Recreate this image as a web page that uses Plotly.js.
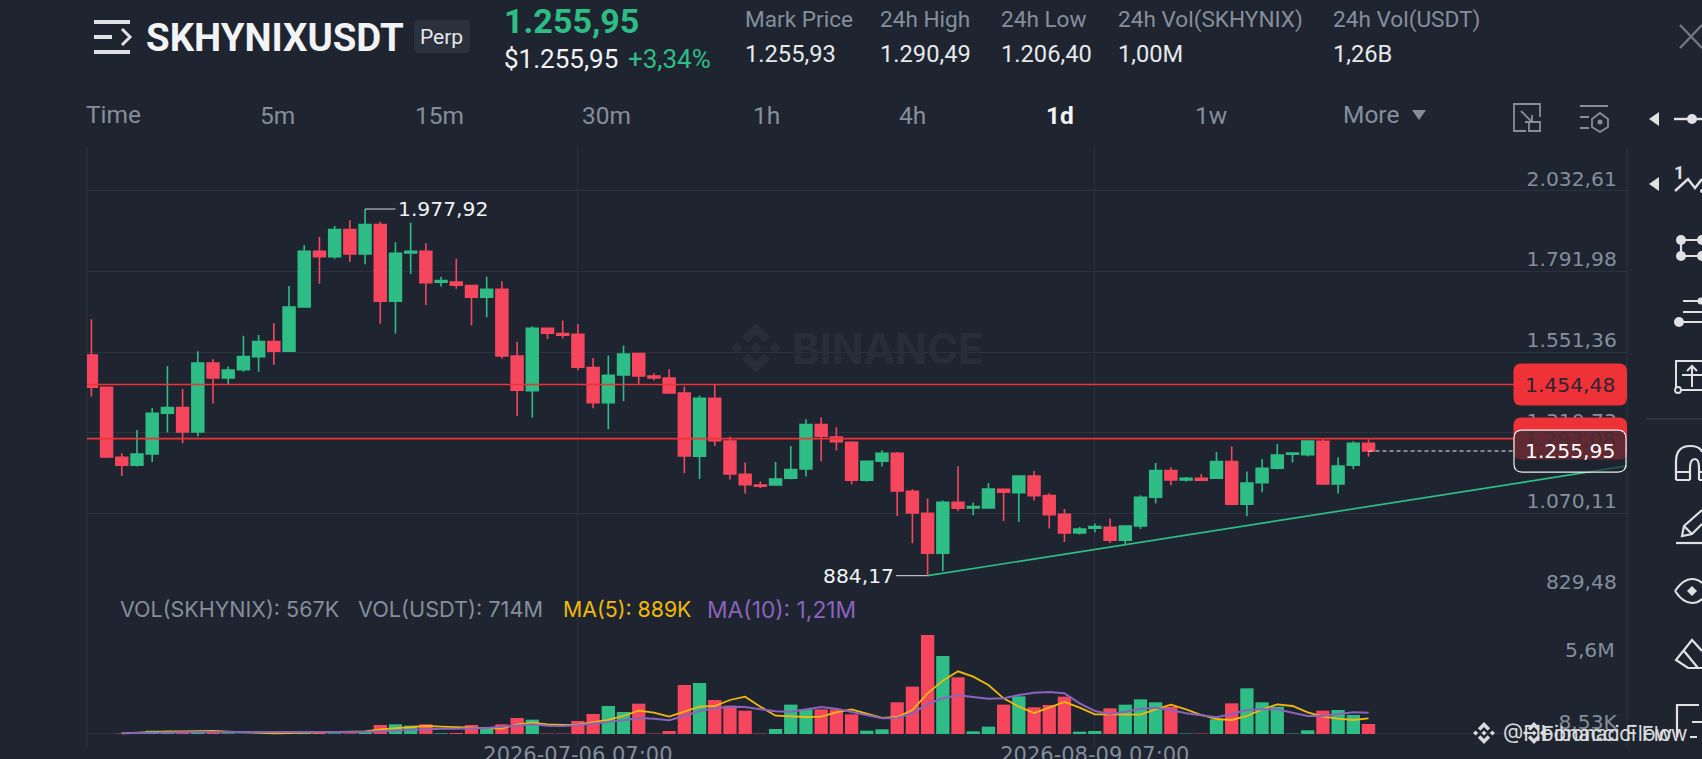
<!DOCTYPE html>
<html><head><meta charset="utf-8">
<script src="https://cdn.plot.ly/plotly-3.0.1.min.js"></script>
<style>html,body{margin:0;padding:0;background:#1e2530;overflow:hidden}#c{width:1702px;height:759px}</style>
</head><body><div id="c"></div>
<script>
const W=1702,H=759;
const opens=[1542.5,1446.1,1237.3,1213.5,1247.3,1368.6,1385.5,1312.9,1518.7,1474,1498.8,1537.6,1582.3,1553.5,1685.7,1851.7,1835.8,1916.4,1843.8,1931.3,1702.6,1846.8,1851.7,1759.3,1760.3,1749.3,1714.5,1738.4,1539.6,1436.2,1622.1,1606.2,1604.2,1504.8,1400.4,1482.9,1546.5,1479.9,1474,1429.2,1240.3,1413.3,1286,1186.6,1154.8,1154.8,1174.7,1202.5,1334.8,1298,1282.1,1168.7,1225.4,1249.3,1135.9,1070.3,951,1103.1,1086.2,1086.2,1141.9,1132,1181.7,1123,1067.3,1011.7,1025.6,1028.6,989.8,1032.5,1118,1197.6,1169.7,1174.7,1174.7,1224.4,1097.2,1161.8,1204.5,1246.3,1245.3,1285.1,1157.8,1213.5,1279.1];
const highs=[1648.9,1446.1,1249.3,1318.9,1384.5,1509.7,1441.1,1553.5,1529.6,1507.8,1600.2,1602.2,1637,1748.3,1869.6,1894.5,1927.3,1944.2,1977.92,1940.2,1878.6,1937.2,1875.6,1776.2,1829.9,1751.3,1776.2,1762.3,1582.3,1628,1623.1,1645,1635,1533.6,1540.6,1570.4,1546.5,1487.9,1499.8,1448.1,1421.3,1454.1,1299,1221.4,1164.8,1223.4,1271.1,1350.7,1355.7,1326.8,1285,1225.4,1258.2,1253.3,1141.9,1114.1,1108.1,1210.5,1102.1,1160.8,1142.9,1183.7,1196.6,1130,1083.2,1029.6,1039.5,1054.4,1034.5,1124,1220.4,1207.5,1178.7,1187.6,1253.3,1269.2,1194.6,1232.4,1277.1,1251.3,1288,1291,1237.3,1285.1,1290.49];
const lows=[1418.3,1235.3,1181.6,1209.5,1223.4,1310.9,1279.1,1299,1397.4,1456.1,1492.8,1492.8,1513.7,1553.5,1684.7,1755.3,1829.9,1819.9,1813,1636,1606.2,1784.1,1691.7,1746.4,1740.4,1631,1654.9,1531.6,1360.6,1355.7,1590.3,1591.3,1496.8,1383.5,1320.8,1404.4,1454.1,1467,1427.2,1189.6,1172.7,1271.1,1170.7,1129,1145.9,1153.8,1171.7,1179.7,1225.4,1257.2,1155.8,1164.8,1209.5,1062.4,980.8,884.17,898.3,1077.3,1064.4,1085.2,1047.5,1044.5,1108.1,1024.6,984.8,1006.7,1012.7,981.8,976.9,1023.6,1099.2,1153.8,1164.8,1167.8,1173.7,1094.2,1061.4,1132.9,1200.6,1221.4,1239.3,1155.8,1129,1201.6,1239.3];
const closes=[1446.1,1238.3,1213.5,1247.3,1368.6,1385.5,1312.9,1518.7,1474,1497.8,1537.6,1582.3,1553.5,1685.7,1851.7,1835.8,1916.4,1843.8,1931.3,1702.6,1845.8,1851.7,1758.3,1764.3,1750.3,1714.5,1738.4,1539.6,1437.2,1622.1,1607.2,1601.2,1505.8,1400.4,1481.9,1545.5,1479.9,1474,1429.2,1241.3,1413.3,1287,1187.6,1155.8,1150.8,1172.7,1200.6,1334.8,1300,1284,1168.7,1225.4,1249.3,1136.9,1071.3,951,1103.1,1085.2,1090.2,1142.9,1133,1181.7,1123,1066.3,1011.7,1023.6,1030.6,989.8,1032.5,1118,1197.6,1169.7,1174.7,1168.7,1224.4,1097.2,1160.8,1204.5,1244.3,1250.3,1286.1,1157.8,1211.5,1279.1,1255.95];
const volumesK=[0,0,19,19,189,75,94,94,75,38,19,19,19,19,57,57,38,38,151,509,547,472,547,38,57,509,321,547,906,811,19,19,736,1132,1585,1245,1717,19,170,2774,2887,1925,1604,1321,19,283,1661,1396,1396,1396,1113,189,264,1793,2680,5600,4416,3208,151,415,1661,2132,1510,1642,2113,132,170,1453,1661,1962,1793,1547,19,19,830,1736,2585,1793,1547,19,208,1321,1359,1076,567];
const ma5K=[null,null,38,75,132,142,151,160,170,132,94,57,38,57,75,75,94,113,151,264,321,396,453,415,377,359,321,302,547,642,547,509,528,642,793,1019,1321,1208,981,1264,1547,1585,1925,2113,1547,1038,1000,962,981,1227,1396,1132,906,962,1359,2302,3019,3548,3246,2774,2019,1547,1189,1491,1812,1491,1113,1113,1094,1094,1396,1661,1396,1076,849,793,1019,1396,1679,1585,1227,981,868,793,889];
const ma10K=[null,null,38,57,94,104,113,113,113,113,113,94,75,75,75,75,75,94,113,151,189,245,302,302,302,321,340,415,491,547,472,453,491,566,679,774,906,868,774,1019,1302,1453,1547,1528,1396,1283,1264,1396,1528,1434,1245,1038,887,906,1170,1698,2019,2189,2076,2000,2019,2208,2340,2378,2302,1736,1302,1132,1264,1434,1491,1359,1170,1057,944,1132,1359,1396,1396,1208,1019,1019,1132,1227,1208];
const priceTicks=[2032.61,1791.98,1551.36,1310.73,1070.11,829.48];
const priceTickText=['2.032,61','1.791,98','1.551,36','1.310,73','1.070,11','829,48'];
const volumeTicks=[8530];
const volumeTickText=['8.53K'];
const dateTicks=['2026-07-06 07:00','2026-08-09 07:00'];
const resistance=[1454.48,1293.08];
const resistanceText=['1.454,48','1.293,08'];
const lastPrice=1255.95;
const highLabelDate='2026-06-22 07:00',highLabelEnd='2026-06-24 07:00',highValue=1977.92;
const lowLabelDate='2026-07-29 07:00',lowLabelEnd='2026-07-27 05:00',lowValue=884.17;
const trendX=['2026-07-29 07:00','2026-09-13 07:00'],trendY=[884.17,1211.5];
const xRange=['2026-06-04 00:05','2026-09-13 07:00'];
const lastDate='2026-08-27 07:00';
const boxEndDate='2026-09-07 00:00';
const axisLabelDate='2026-09-12 15:00';

const UP='#2ebd85',DN='#f6465d',RED='#ef3237',BG='#1e2530',GRID='#2c323d',MUTE='#848e9c',TXT='#e6e8ea',ICON='#dfe1e4';
const LABEL='"DejaVu Sans", sans-serif';
const dates=opens.map((_,i)=>{const d=new Date(Date.UTC(2026,5,4+i,7));return d.toISOString().slice(0,10)+' 07:00';});
const barColors=opens.map((o,i)=>closes[i]>=o?UP:DN);
const vols=volumesK.map(v=>v*1000),ma5=ma5K.map(v=>v==null?null:v*1000),ma10=ma10K.map(v=>v==null?null:v*1000);
const tickTrace=(vals,text,ya)=>({type:'scatter',mode:'text',x:vals.map(()=>axisLabelDate),y:vals,text:text,textposition:'top left',xaxis:'x',yaxis:ya,cliponaxis:false,
  textfont:{family:LABEL,size:20.3,color:MUTE},showlegend:false});

const traces=[
 {type:'bar',x:dates,y:vols,xaxis:'x',yaxis:'y2',marker:{color:barColors,line:{width:0}},showlegend:false,hoverinfo:'skip'},
 {type:'scatter',mode:'lines',x:dates,y:ma5,xaxis:'x',yaxis:'y2',line:{color:'#f0b90b',width:1.8},showlegend:false},
 {type:'scatter',mode:'lines',x:dates,y:ma10,xaxis:'x',yaxis:'y2',line:{color:'#8a63bd',width:2},showlegend:false},
 {type:'candlestick',x:dates,open:opens,high:highs,low:lows,close:closes,xaxis:'x',yaxis:'y',whiskerwidth:0,
  increasing:{line:{color:UP,width:1.6},fillcolor:UP},decreasing:{line:{color:DN,width:1.6},fillcolor:DN},showlegend:false},
 {type:'scatter',mode:'lines',x:[xRange[0],boxEndDate],y:[resistance[0],resistance[0]],line:{color:RED,width:1.7},showlegend:false},
 {type:'scatter',mode:'lines',x:[xRange[0],boxEndDate],y:[resistance[1],resistance[1]],line:{color:RED,width:1.7},showlegend:false},
 {type:'scatter',mode:'lines',x:trendX,y:trendY,line:{color:UP,width:1.7},showlegend:false},
 {type:'scatter',mode:'lines',x:[lastDate,boxEndDate],y:[lastPrice,lastPrice],line:{color:'#e6e8ea',width:1,dash:'4px,3px'},showlegend:false},
 {type:'scatter',mode:'lines',x:[highLabelDate,highLabelEnd],y:[highValue,highValue],line:{color:'#b7bbc2',width:1.2},showlegend:false},
 {type:'scatter',mode:'lines',x:[lowLabelEnd,lowLabelDate],y:[lowValue,lowValue],line:{color:'#b7bbc2',width:1.2},showlegend:false},
 tickTrace(priceTicks,priceTickText,'y'),
 tickTrace(volumeTicks,volumeTickText,'y2')
];

const px=x=>x/W,py=y=>1-y/H;
const shapes=[],ann=[];
function pathPx(d,o){o=o||{};let k=0;
 const s=d.replace(/-?\d+(\.\d+)?/g,m=>{const v=+m;const r=(k++%2===0)?px(v):py(v);return r.toFixed(5);});
 shapes.push({type:'path',xref:'paper',yref:'paper',path:s,line:{color:o.c||ICON,width:o.w==null?2.2:o.w},fillcolor:o.f||'rgba(0,0,0,0)',layer:o.layer||'above'});}
function circ(cx,cy,r,o){o=o||{};shapes.push({type:'circle',xref:'paper',yref:'paper',x0:px(cx-r),x1:px(cx+r),y0:py(cy+r),y1:py(cy-r),line:{color:o.c||ICON,width:o.w==null?0:o.w},fillcolor:o.f||ICON,layer:'above'});}
function T(t,x,y,size,color,o){o=o||{};ann.push({text:t,xref:'paper',yref:'paper',x:px(x),y:py(y),xanchor:o.a||'left',yanchor:'middle',showarrow:false,borderpad:0,
 font:{family:o.fam||'Roboto, sans-serif',size:size,color:color,weight:o.b?700:400}});}
function logo(cx,cy,r,c,layer){
 const p=(pts)=>{pathPx('M'+pts.map(q=>(cx+q[0]*r)+' '+(cy+q[1]*r)).join(' L')+' Z',{c:c,w:0,f:c,layer:layer});};
 p([[0,-1],[.56,-.44],[.33,-.21],[0,-.54],[-.33,-.21],[-.56,-.44]]);
 p([[0,1],[.56,.44],[.33,.21],[0,.54],[-.33,.21],[-.56,.44]]);
 p([[0,-.23],[.23,0],[0,.23],[-.23,0]]);
 p([[-.76,-.23],[-.53,0],[-.76,.23],[-1,0]]);
 p([[.76,-.23],[1,0],[.76,.23],[.53,0]]);
}
function rrect(anchor,x0,x1,hh,fill,line){
 const r=8,a=x0-1627,b=x1-1627;
 shapes.push({type:'path',xref:'paper',yref:'y',xsizemode:'pixel',ysizemode:'pixel',xanchor:1627/W,yanchor:anchor,
  path:`M${a+r} ${-hh} L${b-r} ${-hh} Q${b} ${-hh} ${b} ${-hh+r} L${b} ${hh-r} Q${b} ${hh} ${b-r} ${hh} L${a+r} ${hh} Q${a} ${hh} ${a} ${hh-r} L${a} ${-hh+r} Q${a} ${-hh} ${a+r} ${-hh} Z`,
  fillcolor:fill,line:line||{width:0},layer:'above'});
}

shapes.push({type:'line',xref:'paper',yref:'paper',x0:px(87),x1:px(87),y0:py(747),y1:py(147),line:{color:GRID,width:1.2},layer:'below'});
shapes.push({type:'line',xref:'paper',yref:'paper',x0:px(1627),x1:px(1627),y0:py(747),y1:py(147),line:{color:GRID,width:1.2},layer:'below'});
logo(756,348,25,'#282e39','below');
T('BINANCE',791,348,42,'#282e39',{b:1,fam:'Inter, sans-serif'});
rrect(resistance[0],1513.5,1627,21,RED);
rrect(resistance[1],1513.5,1627,21,RED);
rrect(lastPrice,1514,1626,21,'rgba(30,37,48,0.68)',{color:'#eef0f2',width:1.2});
T(resistanceText[0],1616,384.5,20.3,'#2d2530',{a:'right',fam:LABEL});
T(resistanceText[1],1616,438.7,20.3,'#4a2a33',{a:'right',fam:LABEL});
T('1.255,95',1616,451.1,20.3,'#ffffff',{a:'right',fam:LABEL});
ann.push({text:'1.977,92',x:highLabelEnd,y:highValue,xref:'x',yref:'y',xanchor:'left',yanchor:'middle',xshift:2,showarrow:false,borderpad:0,font:{family:LABEL,size:20.3,color:'#f2f3f5'}});
ann.push({text:'884,17',x:lowLabelEnd,y:lowValue,xref:'x',yref:'y',xanchor:'right',yanchor:'middle',xshift:-1,showarrow:false,borderpad:0,font:{family:LABEL,size:20.3,color:'#f2f3f5'}});
T('VOL(SKHYNIX): 567K',119,609,21.5,MUTE,{fam:'Inter, sans-serif'});
T('VOL(USDT): 714M',357,609,21.7,MUTE,{fam:'Inter, sans-serif'});
T('MA(5): 889K',562,609,21.3,'#f0b90b',{fam:'Inter, sans-serif'});
T('MA(10): 1,21M',706,609,22.8,'#8a63bd',{fam:'Inter, sans-serif'});
ann.push({text:'5,6M',x:1616/W,y:5600000,xref:'paper',yref:'y2',xanchor:'right',yanchor:'middle',yshift:-15,showarrow:false,borderpad:0,font:{family:LABEL,size:20.3,color:MUTE}});
pathPx('M94 22 L130 22',{w:4});pathPx('M94 37 L112 37',{w:4});pathPx('M94 52 L130 52',{w:4});pathPx('M122 29 L130 37 L122 45',{w:3});
T('SKHYNIXUSDT',145,37,38.4,'#f2f3f5',{b:1});
pathPx('M419 20 L465 20 Q470 20 470 25 L470 48 Q470 53 465 53 L419 53 Q414 53 414 48 L414 25 Q414 20 419 20 Z',{w:0,f:'#2b313d'});
T('Perp',441,37,21,TXT,{a:'center'});
T('1.255,95',503,21,34,UP,{b:1});
T('$1.255,95',503,59,26,'#f2f3f5');
T('+3,34%',627,59,26,UP);
const stats=[['Mark Price','1.255,93',744],['24h High','1.290,49',879],['24h Low','1.206,40',1000],['24h Vol(SKHYNIX)','1,00M',1117],['24h Vol(USDT)','1,26B',1332]];
stats.forEach(s=>{T(s[0],s[2],20,22.6,MUTE);T(s[1],s[2],54,23.7,TXT);});
const tabs=[['Time',85,114,'left'],['5m',277,116,'center'],['15m',439,116,'center'],['30m',606,116,'center'],['1h',766,116,'center'],['4h',912,116,'center'],['1d',1060,116,'center'],['1w',1211,116,'center'],['More',1342,114,'left']];
tabs.forEach(t=>T(t[0],t[1],t[2],24.5,t[0]==='1d'?'#f2f3f5':MUTE,{a:t[3],b:t[0]==='1d'}));
pathPx('M1412 110 L1426 110 L1419 120 Z',{w:0,f:MUTE});
pathPx('M1540 117 L1540 104 L1514 104 L1514 131 L1526 131',{c:MUTE,w:1.8});pathPx('M1521 111 L1532 122 M1532 115 L1532 122 L1525 122',{c:MUTE,w:1.8});pathPx('M1529 122 L1540 122 L1540 131 L1529 131 Z',{c:MUTE,w:1.8});
pathPx('M1580 106 L1608 106 M1580 117 L1589 117 M1580 128 L1589 128',{c:MUTE,w:1.8});pathPx('M1600 113 L1608 119 L1608 127 L1600 132 L1592 127 L1592 119 Z',{c:MUTE,w:1.8});circ(1600,122,2.5,{f:MUTE});
pathPx('M1680 25 L1702 48 M1702 25 L1680 48',{c:'#6f7783',w:2.4});
pathPx('M1659 112 L1659 126 L1649 119 Z',{w:0,f:ICON});pathPx('M1674 119 L1702 119',{w:2.4});circ(1692,119,5);
pathPx('M1659 177 L1659 191 L1649 184 Z',{w:0,f:ICON});pathPx('M1675 191 L1688 179 L1695 188 L1702 179',{w:2.4});
T('1',1679,173,18,ICON,{a:'center',b:1});circ(1702,191,2);
circ(1681,240,5);circ(1681,256,5);circ(1702,240,5);circ(1702,256,5);pathPx('M1681 240 L1702 240 M1681 240 L1681 256 M1681 256 L1702 256',{w:2.2});
pathPx('M1683 301 L1702 301 M1683 312 L1702 312 M1679 322 L1702 322',{w:2.2});circ(1701,301,3.5);circ(1679,322,5);
pathPx('M1702 361 L1676 361 L1676 388 M1680 390 L1702 390',{w:2});circ(1678,390,3,{f:BG,c:ICON,w:1.8});
pathPx('M1692 366 L1692 387 M1687 371 L1692 366 L1697 371 M1682 375 L1702 375',{w:2});
pathPx('M1646 419 L1702 419',{c:'#3a404b',w:1.2});
pathPx('M1676 480 L1676 462 Q1676 446 1690 446 Q1700 446 1702 452 M1690 480 L1690 468 Q1690 459 1695 459 Q1699 459 1699 468 L1699 480 M1676 480 L1690 480 M1676 472 L1690 472 M1699 472 L1702 472 M1699 480 L1702 480',{w:2.2});
pathPx('M1676 543 L1702 543',{w:2.2});pathPx('M1702 510 L1684 526 L1682 536 L1692 534 L1702 524 M1684 526 L1692 534',{w:2.2});
pathPx('M1675 591 Q1683 579 1692 579 Q1698 579 1702 583 M1675 591 Q1683 603 1692 603 Q1698 603 1702 599',{w:2.2});pathPx('M1692 586 L1697 591 L1692 596 L1687 591 Z',{w:0,f:ICON});
pathPx('M1702 651 L1692 640 L1676 660 L1688 668 L1702 668 M1684 651 L1698 668',{w:2.2});
pathPx('M1699 705 L1677 705 L1677 737 M1702 722 L1692 722 M1697 737 L1690 737',{w:2.2});
logo(1484,733,11,'#d9dbde','above');logo(1534,733,11,'#d9dbde','above');
T('@Fibonacci Flow',1502,733,21,'#d9dbde',{fam:'Inter, sans-serif'});
T('Fibonacci Flow',1541,733,20.5,'#d9dbde',{fam:'Inter, sans-serif'});

const layout={
 width:W,height:H,margin:{l:0,r:0,t:0,b:0,pad:0},paper_bgcolor:BG,plot_bgcolor:BG,showlegend:false,hovermode:false,dragmode:false,
 bargap:0.125,boxgap:0.22,boxgroupgap:0,
 font:{family:LABEL,color:MUTE},
 xaxis:{type:'date',domain:[px(87),px(1627)],range:xRange,anchor:'y2',rangeslider:{visible:false},tickmode:'array',tickvals:dateTicks,ticktext:dateTicks,
  showgrid:true,gridcolor:GRID,gridwidth:1,zeroline:false,showline:false,ticks:'',tickfont:{family:LABEL,size:21,color:MUTE},ticklabelstandoff:-7},
 yaxis:{domain:[py(594),py(147)],range:[829.48,2162.9],side:'right',anchor:'x',tickmode:'array',tickvals:priceTicks,
  gridcolor:GRID,gridwidth:1,zeroline:false,showline:false,ticks:'',showticklabels:false},
 yaxis2:{domain:[py(747),py(594)],range:[-736000,7924000],side:'right',anchor:'x',tickmode:'array',tickvals:volumeTicks,
  gridcolor:GRID,gridwidth:1,zeroline:false,showline:false,ticks:'',showticklabels:false},
 shapes:shapes,annotations:ann
};
Plotly.newPlot('c',traces,layout,{displayModeBar:false,responsive:false,staticPlot:true});
</script></body></html>
